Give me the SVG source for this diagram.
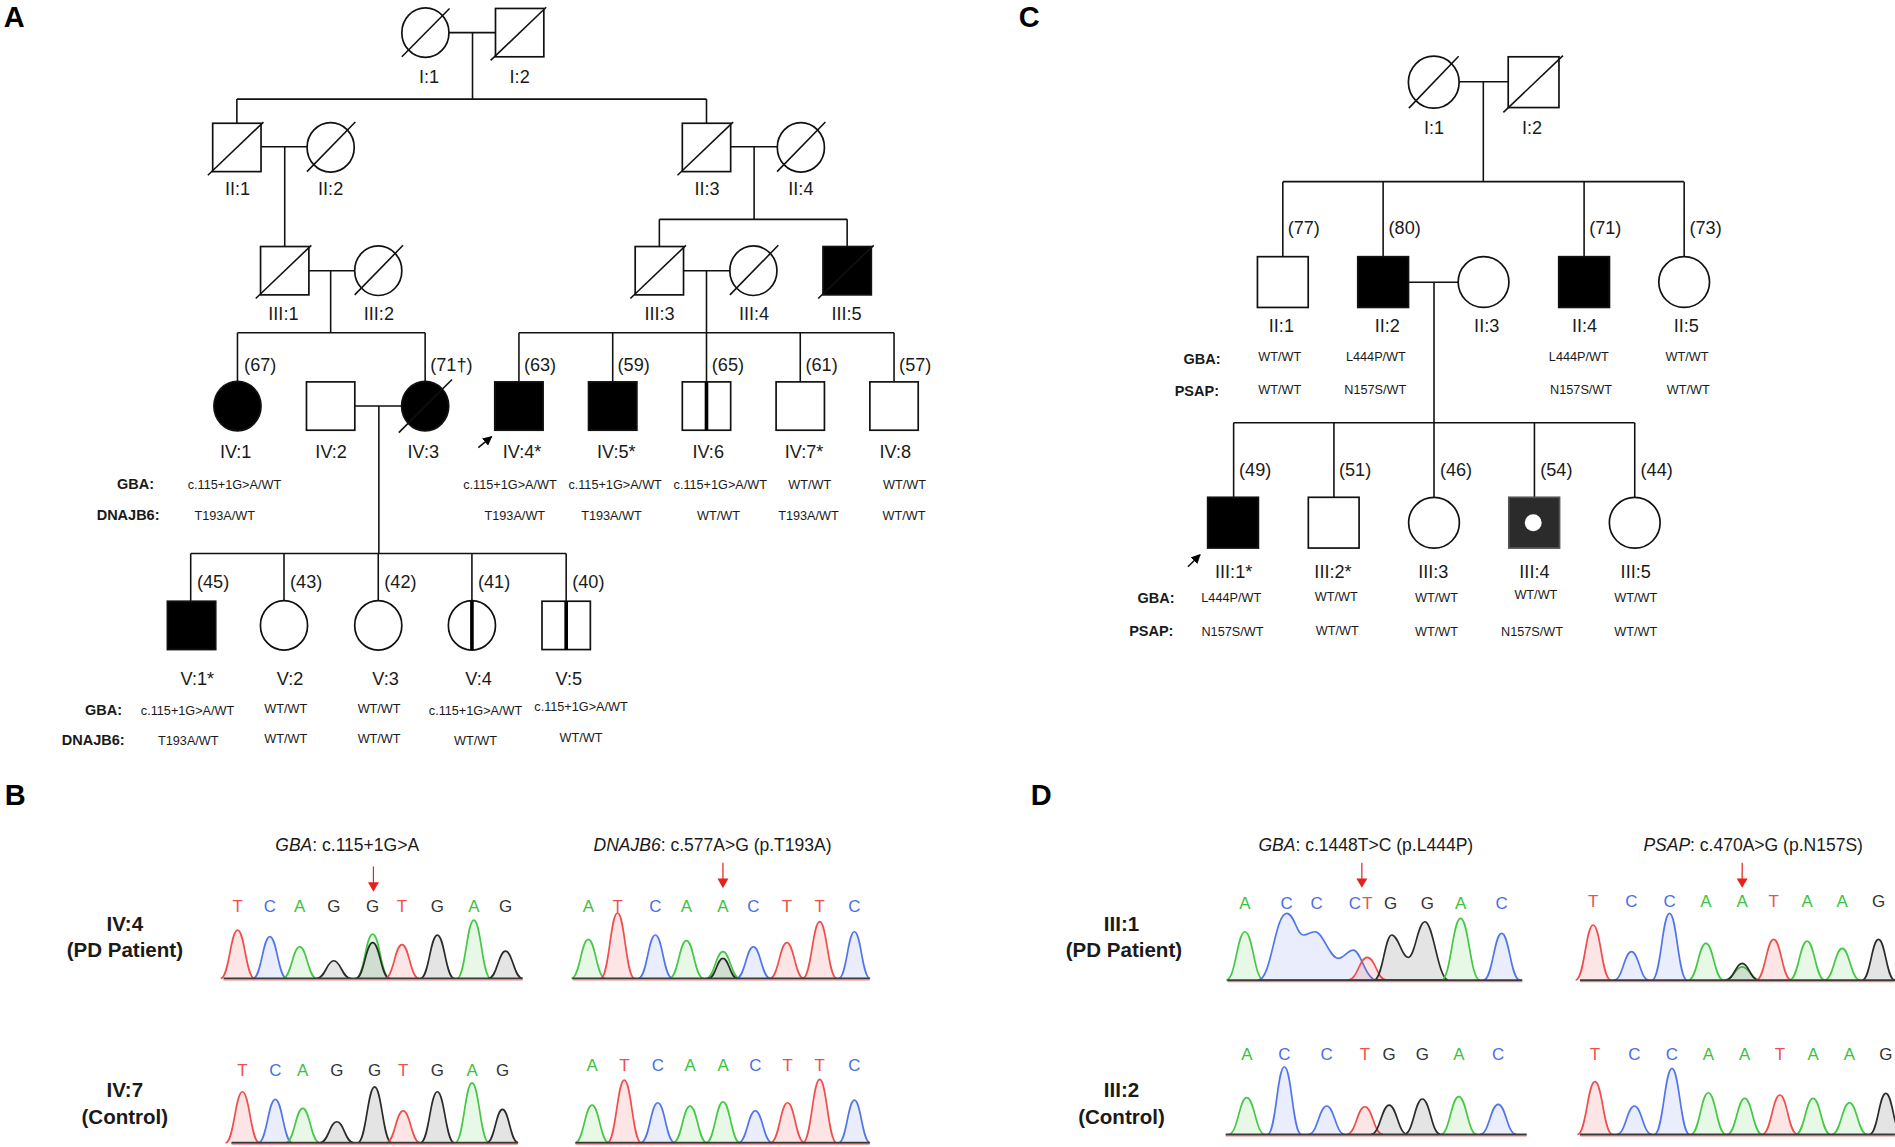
<svg xmlns="http://www.w3.org/2000/svg" xmlns:xlink="http://www.w3.org/1999/xlink" width="1895" height="1147" viewBox="0 0 1895 1147">
<style>
.ln{stroke:#111;stroke-width:1.3;fill:none}
.sh{fill:#fff;stroke:#111;stroke-width:1.4}
.aff{fill:#000}
.dk{fill:#2b2b2b;stroke:#555;stroke-width:1.4}
.thk{stroke:#000;stroke-width:3}
.t{font-family:"Liberation Sans",Arial,sans-serif;fill:#1a1a1a}
.id{font-size:15px;text-anchor:middle}
.age{font-size:15px}
.gt{font-size:10.5px;text-anchor:middle}
.gl{font-size:12px;font-weight:bold;text-anchor:end}
.pl{font-size:24px;font-weight:bold;fill:#000}
.ct{font-size:14.5px;text-anchor:middle}
.rl{font-size:17px;font-weight:bold;text-anchor:middle}
.bs{font-size:14px;text-anchor:middle;font-family:"Liberation Sans",Arial,sans-serif}
.r{stroke:#ee4f4c;fill:#ee4f4c;fill-opacity:.15}
.b{stroke:#5275ea;fill:#5275ea;fill-opacity:.13}
.g{stroke:#45c845;fill:#45c845;fill-opacity:.13}
.k{stroke:#2b2b2b;fill:#2b2b2b;fill-opacity:.13}
.lr{fill:#ee4f4c}.lb{fill:#4a6ee8}.lg{fill:#3cc23c}.lk{fill:#333}
.base{stroke:#3a3a3a;stroke-width:1.6}
.baser{stroke:#e0504c;stroke-width:1;opacity:.7}
.ra{stroke:#e8201c;stroke-width:1}
.rh{fill:#e8201c}
</style>
<defs>
<path id="pk" d="M-1,0 C-0.5,0 -0.42,-1 0,-1 C0.42,-1 0.5,0 1,0" vector-effect="non-scaling-stroke" stroke-width="1.7"/>
<marker id="pa" viewBox="0 0 10 10" refX="9" refY="5" markerWidth="6" markerHeight="6" orient="auto"><path d="M0,0 L10,5 L0,10 z" fill="#000"/></marker>
</defs>
<rect width="1895" height="1147" fill="#fff"/>
<g transform="scale(1.2085)">

<!-- Panel letters -->
<text class="t pl" x="3" y="22">A</text>
<text class="t pl" x="843" y="22">C</text>
<text class="t pl" x="4" y="666">B</text>
<text class="t pl" x="853" y="666">D</text>

<!-- ========== PANEL A connectors ========== -->
<g id="connectors-A" class="ln">
<path d="M371.5,27 H410 M391,27 V82 M196,82 H584.6 M196,82 V102 M584.6,82 V102"/>
<path d="M216,121.5 H254 M235.6,121.5 V204 M604.6,121.5 H643.2 M624,121.5 V181.5 M545.6,181.5 H701 M545.6,181.5 V204 M701,181.5 V204"/>
<path d="M255.6,224 H293.5 M273.6,224 V275.3 M196.5,275.3 H351.8 M196.5,275.3 V315.5 M351.8,275.3 V315.5"/>
<path d="M565.6,224 H604 M584.6,224 V316 M429.4,275.3 H739.8 M429.4,275.3 V316 M507,275.3 V316 M662.2,275.3 V316 M739.8,275.3 V316"/>
<path d="M293.6,336 H332.3 M313.5,336 V458 M157.8,458 H468.5 M157.8,458 V497.5 M235,458 V497 M313,458 V497 M390.5,458 V497 M468.5,458 V497.5"/>
<line x1="395.8" y1="370.4" x2="406.8" y2="361.3" marker-end="url(#pa)"/>
</g>

<!-- Gen I -->
<g id="A-I1"><ellipse class="sh" cx="352" cy="27" rx="19.5" ry="20.5"/><line class="ln" x1="332.5" y1="47" x2="372" y2="7"/><text class="t id" x="355" y="68.5">I:1</text></g>
<g id="A-I2"><rect class="sh" x="410" y="7" width="40" height="40"/><line class="ln" x1="406" y1="50" x2="452" y2="6"/><text class="t id" x="430" y="68.5">I:2</text></g>
<!-- Gen II -->
<g id="A-II1"><rect class="sh" x="176" y="102" width="40" height="40"/><line class="ln" x1="172" y1="145" x2="218" y2="101"/><text class="t id" x="196.5" y="161">II:1</text></g>
<g id="A-II2"><ellipse class="sh" cx="273.6" cy="122" rx="19.5" ry="20.5"/><line class="ln" x1="254" y1="142" x2="294" y2="101"/><text class="t id" x="273.6" y="161">II:2</text></g>
<g id="A-II3"><rect class="sh" x="564.6" y="102" width="40" height="40"/><line class="ln" x1="560.6" y1="145" x2="606.6" y2="101"/><text class="t id" x="585" y="161">II:3</text></g>
<g id="A-II4"><ellipse class="sh" cx="662.7" cy="122" rx="19.5" ry="20.5"/><line class="ln" x1="643" y1="142" x2="683" y2="101"/><text class="t id" x="662.7" y="161">II:4</text></g>
<!-- Gen III -->
<g id="A-III1"><rect class="sh" x="215.6" y="204" width="40" height="40"/><line class="ln" x1="211.6" y1="247" x2="257.6" y2="203"/><text class="t id" x="234.5" y="264.5">III:1</text></g>
<g id="A-III2"><ellipse class="sh" cx="313" cy="224" rx="19.5" ry="20.5"/><line class="ln" x1="293.5" y1="244" x2="333.5" y2="203"/><text class="t id" x="313.5" y="264.5">III:2</text></g>
<g id="A-III3"><rect class="sh" x="525.6" y="204" width="40" height="40"/><line class="ln" x1="521.6" y1="247" x2="567.6" y2="203"/><text class="t id" x="545.8" y="264.5">III:3</text></g>
<g id="A-III4"><ellipse class="sh" cx="623.4" cy="224" rx="19.5" ry="20.5"/><line class="ln" x1="604" y1="244" x2="644" y2="203"/><text class="t id" x="623.9" y="264.5">III:4</text></g>
<g id="A-III5"><rect class="sh aff" x="681" y="204" width="40" height="40"/><line class="ln" x1="677" y1="247" x2="723" y2="203"/><text class="t id" x="700.5" y="264.5">III:5</text></g>

<!-- Gen IV -->
<g class="t gl"><text x="127.5" y="405">GBA:</text><text x="132" y="430">DNAJB6:</text></g>
<g id="A-IV1"><ellipse class="sh aff" cx="196.5" cy="336" rx="19.5" ry="20.5"/><text class="t age" x="202" y="307">(67)</text><text class="t id" x="195" y="379">IV:1</text><text class="t gt" x="194" y="405">c.115+1G&gt;A/WT</text><text class="t gt" x="186" y="430">T193A/WT</text></g>
<g id="A-IV2"><rect class="sh" x="253.6" y="316" width="40" height="40"/><text class="t id" x="274" y="379">IV:2</text></g>
<g id="A-IV3"><ellipse class="sh aff" cx="351.8" cy="336" rx="19.5" ry="20.5"/><line class="ln" x1="330" y1="358" x2="374" y2="314"/><text class="t age" x="356" y="307">(71†)</text><text class="t id" x="350.3" y="379">IV:3</text></g>
<g id="A-IV4"><rect class="sh aff" x="409.4" y="316" width="40" height="40"/><text class="t age" x="433.5" y="307">(63)</text><text class="t id" x="432" y="379">IV:4*</text><text class="t gt" x="422" y="405">c.115+1G&gt;A/WT</text><text class="t gt" x="426" y="430">T193A/WT</text></g>
<g id="A-IV5"><rect class="sh aff" x="487" y="316" width="40" height="40"/><text class="t age" x="511" y="307">(59)</text><text class="t id" x="510" y="379">IV:5*</text><text class="t gt" x="509" y="405">c.115+1G&gt;A/WT</text><text class="t gt" x="506" y="430">T193A/WT</text></g>
<g id="A-IV6"><rect class="sh" x="564.6" y="316" width="40" height="40"/><line class="thk" x1="584.6" y1="316" x2="584.6" y2="356"/><text class="t age" x="589" y="307">(65)</text><text class="t id" x="586" y="379">IV:6</text><text class="t gt" x="596" y="405">c.115+1G&gt;A/WT</text><text class="t gt" x="594.6" y="430">WT/WT</text></g>
<g id="A-IV7"><rect class="sh" x="642.2" y="316" width="40" height="40"/><text class="t age" x="666.5" y="307">(61)</text><text class="t id" x="665.3" y="379">IV:7*</text><text class="t gt" x="670" y="405">WT/WT</text><text class="t gt" x="669" y="430">T193A/WT</text></g>
<g id="A-IV8"><rect class="sh" x="719.8" y="316" width="40" height="40"/><text class="t age" x="744" y="307">(57)</text><text class="t id" x="740.8" y="379">IV:8</text><text class="t gt" x="748.4" y="405">WT/WT</text><text class="t gt" x="748" y="430">WT/WT</text></g>

<!-- Gen V -->
<g class="t gl"><text x="101" y="591.5">GBA:</text><text x="103.2" y="616.5">DNAJB6:</text></g>
<g id="A-V1"><rect class="sh aff" x="138.5" y="497.5" width="40" height="40"/><text class="t age" x="163" y="486.5">(45)</text><text class="t id" x="163.3" y="566.8">V:1*</text><text class="t gt" x="155.2" y="591.5">c.115+1G&gt;A/WT</text><text class="t gt" x="155.8" y="616.5">T193A/WT</text></g>
<g id="A-V2"><ellipse class="sh" cx="235" cy="517.5" rx="19.5" ry="20.5"/><text class="t age" x="240" y="486.5">(43)</text><text class="t id" x="240" y="566.8">V:2</text><text class="t gt" x="236.5" y="590">WT/WT</text><text class="t gt" x="236.5" y="614.5">WT/WT</text></g>
<g id="A-V3"><ellipse class="sh" cx="313" cy="517.5" rx="19.5" ry="20.5"/><text class="t age" x="318" y="486.5">(42)</text><text class="t id" x="319" y="566.8">V:3</text><text class="t gt" x="313.7" y="590">WT/WT</text><text class="t gt" x="313.7" y="614.5">WT/WT</text></g>
<g id="A-V4"><ellipse class="sh" cx="390.5" cy="517.5" rx="19.5" ry="20.5"/><line class="thk" x1="390.5" y1="497" x2="390.5" y2="538"/><text class="t age" x="395.5" y="486.5">(41)</text><text class="t id" x="396" y="566.8">V:4</text><text class="t gt" x="393.5" y="591.5">c.115+1G&gt;A/WT</text><text class="t gt" x="393.5" y="616.5">WT/WT</text></g>
<g id="A-V5"><rect class="sh" x="448.5" y="497.5" width="40" height="40"/><line class="thk" x1="468.5" y1="497.5" x2="468.5" y2="537.5"/><text class="t age" x="473.5" y="486.5">(40)</text><text class="t id" x="470.7" y="566.8">V:5</text><text class="t gt" x="480.8" y="588.4">c.115+1G&gt;A/WT</text><text class="t gt" x="480.8" y="613.6">WT/WT</text></g>

<!-- ========== PANEL C ========== -->
<g id="connectors-C" class="ln">
<path d="M1207.4,67.6 H1248 M1227.4,67.6 V150.3 M1061.5,150.3 H1393.4 M1061.5,150.3 V212.4 M1144.5,150.3 V212.4 M1310.8,150.3 V212.4 M1393.6,150.3 V212.4"/>
<path d="M1165.5,233.6 H1206.5 M1186.6,233.6 V411.5 M1020.8,349.8 H1352.7 M1020.8,349.8 V411.5 M1103.8,349.8 V411.5 M1269.7,349.8 V411.5 M1352.7,349.8 V411.5"/>
<line x1="983" y1="469" x2="993" y2="459" marker-end="url(#pa)"/>
</g>
<g id="C-I1"><ellipse class="sh" cx="1186.4" cy="68" rx="21" ry="21.5"/><line class="ln" x1="1165.8" y1="89.5" x2="1207" y2="46.5"/><text class="t id" x="1186.6" y="111">I:1</text></g>
<g id="C-I2"><rect class="sh" x="1248" y="47" width="42" height="42"/><line class="ln" x1="1244" y1="93" x2="1293.3" y2="46"/><text class="t id" x="1267.7" y="111">I:2</text></g>

<g class="t gl"><text x="1010" y="301">GBA:</text><text x="1008.7" y="327.5">PSAP:</text></g>
<g id="C-II1"><rect class="sh" x="1040.5" y="212.4" width="42" height="42"/><text class="t age" x="1065.5" y="194">(77)</text><text class="t id" x="1060.3" y="275">II:1</text><text class="t gt" x="1059" y="299">WT/WT</text><text class="t gt" x="1059" y="326">WT/WT</text></g>
<g id="C-II2"><rect class="sh aff" x="1123.5" y="212.4" width="42" height="42"/><text class="t age" x="1149" y="194">(80)</text><text class="t id" x="1148" y="275">II:2</text><text class="t gt" x="1138.5" y="299">L444P/WT</text><text class="t gt" x="1138" y="326">N157S/WT</text></g>
<g id="C-II3"><ellipse class="sh" cx="1227.6" cy="233.4" rx="21" ry="21"/><text class="t id" x="1230.2" y="275">II:3</text></g>
<g id="C-II4"><rect class="sh aff" x="1289.8" y="212.4" width="42" height="42"/><text class="t age" x="1315" y="194">(71)</text><text class="t id" x="1311.2" y="275">II:4</text><text class="t gt" x="1306.4" y="299">L444P/WT</text><text class="t gt" x="1308.3" y="326">N157S/WT</text></g>
<g id="C-II5"><ellipse class="sh" cx="1393.6" cy="233.4" rx="21" ry="21"/><text class="t age" x="1398" y="194">(73)</text><text class="t id" x="1395.4" y="275">II:5</text><text class="t gt" x="1396" y="299">WT/WT</text><text class="t gt" x="1397" y="326">WT/WT</text></g>

<g class="t gl"><text x="972" y="499">GBA:</text><text x="971" y="526.5">PSAP:</text></g>
<g id="C-III1"><rect class="sh aff" x="999.3" y="411.5" width="42" height="42"/><text class="t age" x="1025.3" y="394">(49)</text><text class="t id" x="1020.8" y="478">III:1*</text><text class="t gt" x="1018.8" y="498.5">L444P/WT</text><text class="t gt" x="1019.8" y="526">N157S/WT</text></g>
<g id="C-III2"><rect class="sh" x="1082.6" y="411.5" width="42" height="42"/><text class="t age" x="1108" y="394">(51)</text><text class="t id" x="1103" y="478">III:2*</text><text class="t gt" x="1105.7" y="497">WT/WT</text><text class="t gt" x="1106.6" y="525.5">WT/WT</text></g>
<g id="C-III3"><ellipse class="sh" cx="1186.6" cy="432.6" rx="21" ry="21"/><text class="t age" x="1191.5" y="394">(46)</text><text class="t id" x="1186" y="478">III:3</text><text class="t gt" x="1188.7" y="498.5">WT/WT</text><text class="t gt" x="1188.7" y="526">WT/WT</text></g>
<g id="C-III4"><rect class="dk" x="1248.5" y="411.5" width="42" height="42"/><circle cx="1268.7" cy="432.5" r="7" fill="#fff"/><text class="t age" x="1274.5" y="394">(54)</text><text class="t id" x="1269.7" y="478">III:4</text><text class="t gt" x="1270.9" y="496">WT/WT</text><text class="t gt" x="1267.7" y="526">N157S/WT</text></g>
<g id="C-III5"><ellipse class="sh" cx="1352.7" cy="432.6" rx="21" ry="21"/><text class="t age" x="1357.5" y="394">(44)</text><text class="t id" x="1353.5" y="478">III:5</text><text class="t gt" x="1353.5" y="498.5">WT/WT</text><text class="t gt" x="1353.5" y="526">WT/WT</text></g>

<!-- ========== PANEL B ========== -->
<g id="B-titles">
<text class="t ct" x="287.3" y="704"><tspan font-style="italic">GBA</tspan>: c.115+1G&gt;A</text>
<text class="t ct" x="589.6" y="704"><tspan font-style="italic">DNAJB6</tspan>: c.577A&gt;G (p.T193A)</text>
<line class="ra" x1="309" y1="717" x2="309" y2="731"/><polygon class="rh" points="304.5,730 313.5,730 309,738"/>
<line class="ra" x1="598.2" y1="714" x2="598.2" y2="728"/><polygon class="rh" points="593.7,727 602.7,727 598.2,735"/>
<text class="t rl" x="103.3" y="770">IV:4</text><text class="t rl" x="103.3" y="792">(PD Patient)</text>
<text class="t rl" x="103.3" y="908">IV:7</text><text class="t rl" x="103.3" y="930">(Control)</text>
</g>

<g id="B-pat-GBA">
<use xlink:href="#pk" class="r" transform="translate(196.6,809.6) scale(14,40)"/>
<use xlink:href="#pk" class="b" transform="translate(223.3,809.6) scale(14,34.6)"/>
<use xlink:href="#pk" class="g" transform="translate(248,809.6) scale(14,26.2)"/>
<use xlink:href="#pk" class="k" transform="translate(276.2,809.6) scale(14,14.6)"/>
<use xlink:href="#pk" class="g" transform="translate(308.4,809.6) scale(14,36.6)"/>
<use xlink:href="#pk" class="k" transform="translate(308.4,809.6) scale(14,29.6)"/>
<use xlink:href="#pk" class="r" transform="translate(332.6,809.6) scale(14,28)"/>
<use xlink:href="#pk" class="k" transform="translate(361.9,809.6) scale(14,35.8)"/>
<use xlink:href="#pk" class="g" transform="translate(392.1,809.6) scale(14,48.3)"/>
<use xlink:href="#pk" class="k" transform="translate(418.3,809.6) scale(14,22.6)"/>
<line class="base" x1="185" y1="809.6" x2="432.4" y2="809.6"/><line class="baser" x1="185" y1="810.8" x2="432.4" y2="810.8"/>
<text class="bs lr" x="196.6" y="754.5">T</text><text class="bs lb" x="223.3" y="754.5">C</text><text class="bs lg" x="248" y="754.5">A</text><text class="bs lk" x="276.2" y="754.5">G</text><text class="bs lk" x="308.4" y="754.5">G</text><text class="bs lr" x="332.6" y="754.5">T</text><text class="bs lk" x="361.9" y="754.5">G</text><text class="bs lg" x="392.1" y="754.5">A</text><text class="bs lk" x="418.3" y="754.5">G</text>
</g>

<g id="B-pat-DNAJB6">
<use xlink:href="#pk" class="g" transform="translate(486.8,809.6) scale(14,32.3)"/>
<use xlink:href="#pk" class="r" transform="translate(511,809.6) scale(14,54.3)"/>
<use xlink:href="#pk" class="b" transform="translate(542.3,809.6) scale(14,35.9)"/>
<use xlink:href="#pk" class="g" transform="translate(568,809.6) scale(14,31.2)"/>
<use xlink:href="#pk" class="g" transform="translate(598.2,809.6) scale(14,22.1)"/>
<use xlink:href="#pk" class="k" transform="translate(598.2,809.6) scale(12,16.6)"/>
<use xlink:href="#pk" class="b" transform="translate(623.4,809.6) scale(14,26.2)"/>
<use xlink:href="#pk" class="r" transform="translate(651.1,809.6) scale(14,29.6)"/>
<use xlink:href="#pk" class="r" transform="translate(678.3,809.6) scale(14,46.9)"/>
<use xlink:href="#pk" class="b" transform="translate(707,809.6) scale(13,38.6)"/>
<line class="base" x1="473.7" y1="809.6" x2="719.6" y2="809.6"/><line class="baser" x1="473.7" y1="810.8" x2="719.6" y2="810.8"/>
<text class="bs lg" x="486.8" y="754.5">A</text><text class="bs lr" x="511" y="754.5">T</text><text class="bs lb" x="542.3" y="754.5">C</text><text class="bs lg" x="568" y="754.5">A</text><text class="bs lg" x="598.2" y="754.5">A</text><text class="bs lb" x="623.4" y="754.5">C</text><text class="bs lr" x="651.1" y="754.5">T</text><text class="bs lr" x="678.3" y="754.5">T</text><text class="bs lb" x="707" y="754.5">C</text>
</g>

<g id="B-ctrl-GBA">
<use xlink:href="#pk" class="r" transform="translate(200.6,945.6) scale(14,42.2)"/>
<use xlink:href="#pk" class="b" transform="translate(227.8,945.6) scale(14,35.9)"/>
<use xlink:href="#pk" class="g" transform="translate(250.5,945.6) scale(14,28.4)"/>
<use xlink:href="#pk" class="k" transform="translate(278.7,945.6) scale(14,17.4)"/>
<use xlink:href="#pk" class="k" transform="translate(310,945.6) scale(14,46.3)"/>
<use xlink:href="#pk" class="r" transform="translate(333.6,945.6) scale(14,26.5)"/>
<use xlink:href="#pk" class="k" transform="translate(361.9,945.6) scale(14,42.2)"/>
<use xlink:href="#pk" class="g" transform="translate(390.6,945.6) scale(14,49.6)"/>
<use xlink:href="#pk" class="k" transform="translate(415.8,945.6) scale(13,27.6)"/>
<line class="base" x1="191.5" y1="945.6" x2="428.4" y2="945.6"/><line class="baser" x1="191.5" y1="946.8" x2="428.4" y2="946.8"/>
<text class="bs lr" x="200.6" y="890">T</text><text class="bs lb" x="227.8" y="890">C</text><text class="bs lg" x="250.5" y="890">A</text><text class="bs lk" x="278.7" y="890">G</text><text class="bs lk" x="310" y="890">G</text><text class="bs lr" x="333.6" y="890">T</text><text class="bs lk" x="361.9" y="890">G</text><text class="bs lg" x="390.6" y="890">A</text><text class="bs lk" x="415.8" y="890">G</text>
</g>

<g id="B-ctrl-DNAJB6">
<use xlink:href="#pk" class="g" transform="translate(489.9,945.6) scale(14,31.2)"/>
<use xlink:href="#pk" class="r" transform="translate(516.6,945.6) scale(14,51.8)"/>
<use xlink:href="#pk" class="b" transform="translate(544.3,945.6) scale(14,33.1)"/>
<use xlink:href="#pk" class="g" transform="translate(571,945.6) scale(14,30.3)"/>
<use xlink:href="#pk" class="g" transform="translate(598.3,945.6) scale(14,33.9)"/>
<use xlink:href="#pk" class="b" transform="translate(625,945.6) scale(14,26.5)"/>
<use xlink:href="#pk" class="r" transform="translate(651.7,945.6) scale(14,33.1)"/>
<use xlink:href="#pk" class="r" transform="translate(678.3,945.6) scale(14,52.4)"/>
<use xlink:href="#pk" class="b" transform="translate(707,945.6) scale(13,35.3)"/>
<line class="base" x1="476.2" y1="945.6" x2="719.6" y2="945.6"/><line class="baser" x1="476.2" y1="946.8" x2="719.6" y2="946.8"/>
<text class="bs lg" x="489.9" y="886">A</text><text class="bs lr" x="516.6" y="886">T</text><text class="bs lb" x="544.3" y="886">C</text><text class="bs lg" x="571" y="886">A</text><text class="bs lg" x="598.3" y="886">A</text><text class="bs lb" x="625" y="886">C</text><text class="bs lr" x="651.7" y="886">T</text><text class="bs lr" x="678.3" y="886">T</text><text class="bs lb" x="707" y="886">C</text>
</g>

<!-- ========== PANEL D ========== -->
<g id="D-titles">
<text class="t ct" x="1130.2" y="704"><tspan font-style="italic">GBA</tspan>: c.1448T&gt;C (p.L444P)</text>
<text class="t ct" x="1450.7" y="704"><tspan font-style="italic">PSAP</tspan>: c.470A&gt;G (p.N157S)</text>
<line class="ra" x1="1126.9" y1="714" x2="1126.9" y2="728"/><polygon class="rh" points="1122.4,727 1131.4,727 1126.9,734.5"/>
<line class="ra" x1="1441.6" y1="714" x2="1441.6" y2="728"/><polygon class="rh" points="1437.1,727 1446.1,727 1441.6,734.5"/>
<text class="t rl" x="928" y="770">III:1</text><text class="t rl" x="930" y="792">(PD Patient)</text>
<text class="t rl" x="928" y="908">III:2</text><text class="t rl" x="928" y="930">(Control)</text>
</g>

<g id="D-pat-GBA">
<use xlink:href="#pk" class="g" transform="translate(1030.2,811) scale(15.5,40)"/>
<path class="b" stroke-width="1.4" d="M1041.2,811 C1052,811 1055,755.8 1064.7,755.8 C1071,755.8 1073,773.7 1078.5,773.7 C1082,773.7 1084,771 1088.1,771 C1095,771 1100,793 1107.4,793 C1112,793 1115,786.2 1119.9,786.2 C1126,786.2 1130,811 1139.2,811 Z"/>
<use xlink:href="#pk" class="r" transform="translate(1131.4,811) scale(16,18.8)"/>
<path class="k" stroke-width="1.4" d="M1137,811 C1144,811 1146,773.7 1151.6,773.7 C1157,773.7 1160,792.2 1165.3,792.2 C1171,792.2 1173,762.7 1179.2,762.7 C1186,762.7 1190,811 1198.4,811 Z"/>
<use xlink:href="#pk" class="g" transform="translate(1208.6,811) scale(16,51)"/>
<use xlink:href="#pk" class="b" transform="translate(1242.6,811) scale(15,38.7)"/>
<line class="base" x1="1015.6" y1="811" x2="1259.7" y2="811"/><line class="baser" x1="1015.6" y1="812.2" x2="1259.7" y2="812.2"/>
<text class="bs lg" x="1030.2" y="752.5">A</text><text class="bs lb" x="1064.7" y="752.5">C</text><text class="bs lb" x="1089.5" y="752.5">C</text><text class="bs lb" x="1121.2" y="752.5">C</text><text class="bs lr" x="1131.4" y="752.5">T</text><text class="bs lk" x="1150.7" y="752.5">G</text><text class="bs lk" x="1181.1" y="752.5">G</text><text class="bs lg" x="1208.6" y="752.5">A</text><text class="bs lb" x="1242.6" y="752.5">C</text>
</g>

<g id="D-pat-PSAP">
<use xlink:href="#pk" class="r" transform="translate(1318.3,811) scale(14.5,45.6)"/>
<use xlink:href="#pk" class="b" transform="translate(1350,811) scale(14.5,23.5)"/>
<use xlink:href="#pk" class="b" transform="translate(1381.5,811) scale(14.5,55.2)"/>
<use xlink:href="#pk" class="g" transform="translate(1411.6,811) scale(14.5,30.4)"/>
<use xlink:href="#pk" class="g" transform="translate(1441.6,811) scale(14.5,11)"/>
<use xlink:href="#pk" class="k" transform="translate(1441.6,811) scale(13.5,13.8)"/>
<use xlink:href="#pk" class="r" transform="translate(1467.7,811) scale(14.5,33.7)"/>
<use xlink:href="#pk" class="g" transform="translate(1495.3,811) scale(14.5,32.3)"/>
<use xlink:href="#pk" class="g" transform="translate(1524.4,811) scale(14.5,26.2)"/>
<use xlink:href="#pk" class="k" transform="translate(1554.4,811) scale(13.5,33.7)"/>
<line class="base" x1="1307.4" y1="811" x2="1568" y2="811"/><line class="baser" x1="1307.4" y1="812.2" x2="1568" y2="812.2"/>
<text class="bs lr" x="1318.3" y="750.5">T</text><text class="bs lb" x="1350" y="750.5">C</text><text class="bs lb" x="1381.5" y="750.5">C</text><text class="bs lg" x="1411.6" y="750.5">A</text><text class="bs lg" x="1441.6" y="750.5">A</text><text class="bs lr" x="1467.7" y="750.5">T</text><text class="bs lg" x="1495.3" y="750.5">A</text><text class="bs lg" x="1524.4" y="750.5">A</text><text class="bs lk" x="1554.4" y="750.5">G</text>
</g>

<g id="D-ctrl-GBA">
<use xlink:href="#pk" class="g" transform="translate(1031.7,938.7) scale(15,30.4)"/>
<use xlink:href="#pk" class="b" transform="translate(1062.8,938.7) scale(14,56)"/>
<use xlink:href="#pk" class="b" transform="translate(1097.8,938.7) scale(15,23.5)"/>
<use xlink:href="#pk" class="r" transform="translate(1129.4,938.7) scale(15,22.9)"/>
<use xlink:href="#pk" class="k" transform="translate(1149.5,938.7) scale(15,24.3)"/>
<use xlink:href="#pk" class="k" transform="translate(1177,938.7) scale(15,29.3)"/>
<use xlink:href="#pk" class="g" transform="translate(1207.1,938.7) scale(15,31.2)"/>
<use xlink:href="#pk" class="b" transform="translate(1239.7,938.7) scale(15,24.9)"/>
<line class="base" x1="1014.2" y1="938.7" x2="1263.3" y2="938.7"/><line class="baser" x1="1014.2" y1="939.9" x2="1263.3" y2="939.9"/>
<text class="bs lg" x="1031.7" y="877.5">A</text><text class="bs lb" x="1062.8" y="877.5">C</text><text class="bs lb" x="1097.8" y="877.5">C</text><text class="bs lr" x="1129.4" y="877.5">T</text><text class="bs lk" x="1149.5" y="877.5">G</text><text class="bs lk" x="1177" y="877.5">G</text><text class="bs lg" x="1207.1" y="877.5">A</text><text class="bs lb" x="1239.7" y="877.5">C</text>
</g>

<g id="D-ctrl-PSAP">
<use xlink:href="#pk" class="r" transform="translate(1319.8,938.7) scale(14.5,43.7)"/>
<use xlink:href="#pk" class="b" transform="translate(1352.4,938.7) scale(14.5,23.5)"/>
<use xlink:href="#pk" class="b" transform="translate(1383.5,938.7) scale(14.5,54.7)"/>
<use xlink:href="#pk" class="g" transform="translate(1413.6,938.7) scale(14.5,34.5)"/>
<use xlink:href="#pk" class="g" transform="translate(1443.7,938.7) scale(14.5,29.8)"/>
<use xlink:href="#pk" class="r" transform="translate(1472.8,938.7) scale(14.5,32.6)"/>
<use xlink:href="#pk" class="g" transform="translate(1500.3,938.7) scale(14.5,29.8)"/>
<use xlink:href="#pk" class="g" transform="translate(1530.4,938.7) scale(14.5,26.2)"/>
<use xlink:href="#pk" class="k" transform="translate(1560.5,938.7) scale(13.5,33.9)"/>
<line class="base" x1="1307.4" y1="938.7" x2="1568" y2="938.7"/><line class="baser" x1="1307.4" y1="939.9" x2="1568" y2="939.9"/>
<text class="bs lr" x="1319.8" y="877.5">T</text><text class="bs lb" x="1352.4" y="877.5">C</text><text class="bs lb" x="1383.5" y="877.5">C</text><text class="bs lg" x="1413.6" y="877.5">A</text><text class="bs lg" x="1443.7" y="877.5">A</text><text class="bs lr" x="1472.8" y="877.5">T</text><text class="bs lg" x="1500.3" y="877.5">A</text><text class="bs lg" x="1530.4" y="877.5">A</text><text class="bs lk" x="1560.5" y="877.5">G</text>
</g>

</g>
</svg>
